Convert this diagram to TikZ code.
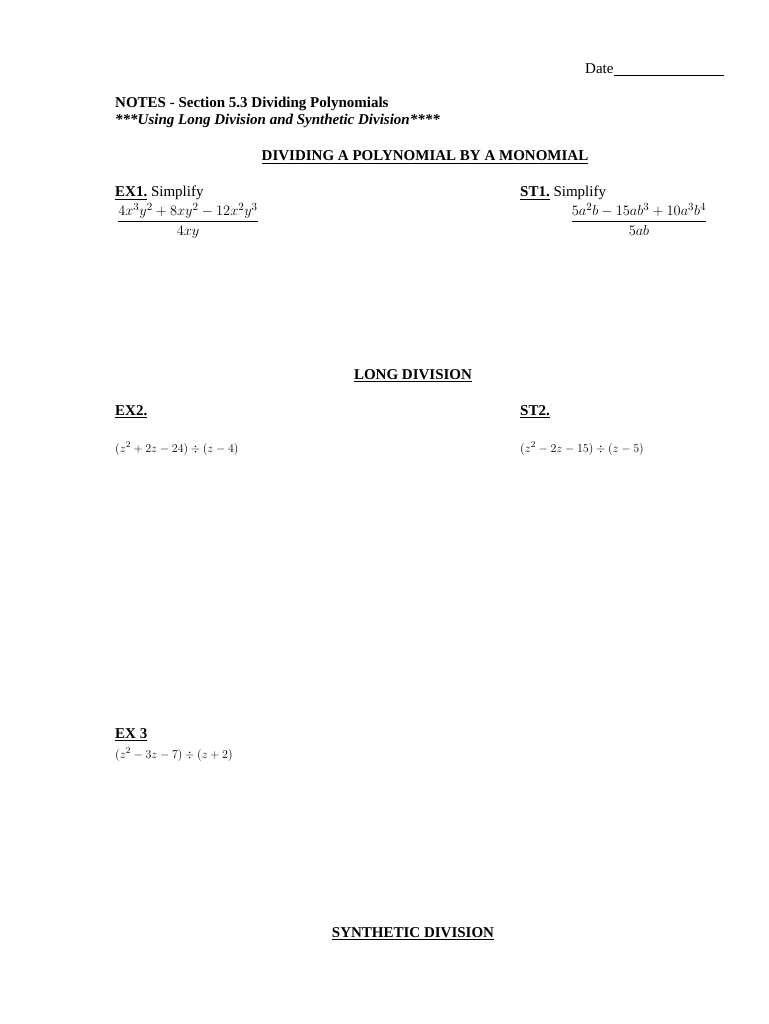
\documentclass[tikz,border=0pt]{standalone}
\usepackage{amsmath}
\usepackage{fontspec}
\setmainfont{Liberation Serif}
\usepackage{tikz}
\tikzset{
  txt/.style={anchor=base west, inner sep=0pt, font=\fontsize{15}{18}\selectfont},
  head/.style={anchor=base, inner sep=0pt, font=\fontsize{15}{18}\selectfont\bfseries}
}
\newcommand{\ul}[1]{\underline{#1}}

\begin{document}
\begin{tikzpicture}[x=1pt, y=-1pt]
  \useasboundingbox (0,0) rectangle (768,1024);
  % Top
  \node [txt] (date) at (585, 74) {Date\rule[-1.5pt]{110pt}{0.6pt}};
  \node [txt, font=\fontsize{15}{18}\selectfont\bfseries] (title) at (115, 108) {NOTES - Section 5.3 Dividing Polynomials};
  \node [txt, font=\fontsize{15}{18}\selectfont\bfseries\itshape] (sub) at (115, 125) {***Using Long Division and Synthetic Division****};

  % Monomial
  \node [head] (mono) at (425, 161) {\ul{DIVIDING A POLYNOMIAL BY A MONOMIAL}};
  \node [txt] (ex1) at (115, 197) {\textbf{\ul{EX1.}} Simplify};
  \node [anchor=north, inner sep=0pt, font=\fontsize{15}{18}\selectfont] (fr1) at (188, 203)
    {$\dfrac{4x^3y^2+8xy^2-12x^2y^3}{4xy}$};
  \node [txt] (st1) at (520, 197) {\textbf{\ul{ST1.}} Simplify};
  \node [anchor=north, inner sep=0pt, font=\fontsize{15}{18}\selectfont] (fr2) at (639, 203)
    {$\dfrac{5a^2b-15ab^3+10a^3b^4}{5ab}$};

  % Long division
  \node [head] (long) at (413, 379) {\ul{LONG DIVISION}};
  \node [txt] (ex2) at (115, 415) {\textbf{\ul{EX2.}}};
  \node [txt] (st2) at (520, 415) {\textbf{\ul{ST2.}}};
  \node [txt, font=\fontsize{13}{16}\selectfont] (p2) at (115, 452) {$(z^2+2z-24)\div(z-4)$};
  \node [txt, font=\fontsize{13}{16}\selectfont] (q2) at (520, 452) {$(z^2-2z-15)\div(z-5)$};
  \node [txt] (ex3) at (115, 738) {\textbf{\ul{EX 3}}};
  \node [txt, font=\fontsize{13}{16}\selectfont] (p3) at (115, 758) {$(z^2-3z-7)\div(z+2)$};

  % Synthetic
  \node [head] (syn) at (413, 937) {\ul{SYNTHETIC DIVISION}};
\end{tikzpicture}
\end{document}
